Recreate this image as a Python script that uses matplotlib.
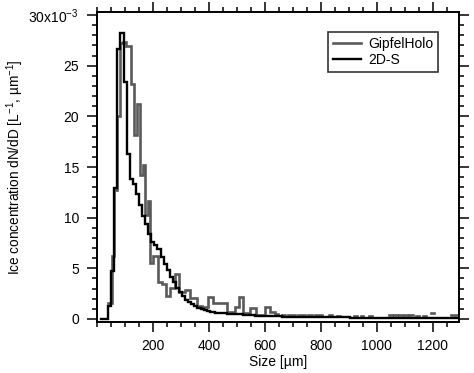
import numpy as np
import matplotlib
matplotlib.use("Agg")
import matplotlib.pyplot as plt
from matplotlib.ticker import MultipleLocator, FixedLocator, FixedFormatter

plt.rcParams['font.family'] = ['Liberation Sans', 'DejaVu Sans']
plt.rcParams['mathtext.fontset'] = 'custom'
plt.rcParams['mathtext.rm'] = 'Liberation Sans'
plt.rcParams['mathtext.it'] = 'Liberation Sans:italic'

# ---- data (size in µm, concentration in L^-1 µm^-1) ----
s2d_edges = [15, 40, 51, 62, 73, 84, 95, 106, 117, 128, 139, 150, 161, 172, 183, 194,
             205, 216, 227, 238, 249, 260, 271, 282, 293, 304, 315, 326, 337, 348, 359,
             370, 381, 392, 403, 423, 443, 463, 483, 503, 523, 543, 563, 583, 603, 623,
             663, 703, 743, 783, 823, 863, 903, 943, 983, 1023, 1063, 1103, 1143, 1183,
             1223, 1263, 1290]
s2d_vals = [0.0, 1.3, 4.7, 12.9, 26.6, 28.2, 23.4, 16.3, 13.8, 13.3, 12.3, 11.2, 10.2,
            9.4, 8.4, 7.6, 7.3, 6.9, 6.1, 5.4, 4.8, 4.1, 3.6, 3.1, 2.7, 2.3, 1.9, 1.65,
            1.45, 1.25, 1.1, 1.0, 0.9, 0.82, 0.72, 0.62, 0.55, 0.5, 0.45, 0.45, 0.42,
            0.38, 0.33, 0.3, 0.28, 0.26, 0.23, 0.21, 0.2, 0.18, 0.16, 0.15, 0.13, 0.12,
            0.12, 0.11, 0.1, 0.1, 0.1, 0.1, 0.1, 0.1]

holo_edges = [40, 52, 62, 72, 82, 94, 104, 121, 133, 144, 154, 163, 173, 181, 189, 200,
              218, 232, 248, 260, 279, 293, 314, 332, 356, 376, 398, 416, 440, 463, 493,
              507, 521, 546, 570, 600, 618, 636, 648, 660, 672, 684, 696, 708, 720, 732,
              744, 756, 768, 780, 792, 804, 828, 840, 858, 870, 918, 930, 942, 950, 972,
              984, 1044, 1056, 1062, 1074, 1080, 1092, 1098, 1110, 1116, 1128, 1140,
              1152, 1164, 1176, 1194, 1206, 1266, 1290]
nan = np.nan
holo_vals = [1.6, 6.2, 12.7, 20.0, 27.2, 27.3, 26.9, 23.2, 18.2, 21.2, 14.2, 15.2, 10.3,
             11.6, 5.5, 6.2, 3.6, 3.5, 2.3, 3.1, 4.4, 2.7, 2.9, 2.1, 1.3, 1.2, 2.2, 1.6,
             1.6, 0.7, 1.2, 2.2, 0.6, 1.1, 0.4, 1.2, 0.7, 0.5, nan, 0.4, nan, 0.35, 0.4,
             nan, 0.4, 0.35, nan, 0.4, nan, 0.35, 0.35, nan, 0.35, nan, 0.3, nan, 0.3,
             nan, 0.3, nan, 0.3, nan, 0.35, nan, 0.35, nan, 0.35, nan, 0.35, nan, 0.35,
             nan, 0.3, nan, 0.3, nan, 0.6, nan, 0.35]

series_names = ["GipfelHolo", "2D-S"]
ytick_labels = ['0', '5', '10', '15', '20', '25', r'30x10$^{\mathrm{-3}}$']


def stair_xy(edges, vals, scale=1e-3):
    e = np.asarray(edges, float)
    v = np.asarray(vals, float) * scale
    x = np.repeat(e, 2)[1:-1]
    y = np.repeat(v, 2)
    return x, y


fig = plt.figure(figsize=(4.74, 3.73), dpi=100)
ax = fig.add_axes([97 / 474, 1 - 322 / 373, (459 - 97) / 474, (322 - 12) / 373])

hx, hy = stair_xy(holo_edges, holo_vals)
bx, by = stair_xy(s2d_edges, s2d_vals)
ax.plot(hx, hy, color='#5a5a5a', lw=1.9, solid_joinstyle='miter', label=series_names[0])
ax.plot(bx, by, color='black', lw=1.7, solid_joinstyle='miter', label=series_names[1])

ax.set_xlim(0, 1294)
ax.set_ylim(-0.0003, 0.0303)

ax.xaxis.set_major_locator(FixedLocator([200, 400, 600, 800, 1000, 1200]))
ax.xaxis.set_minor_locator(MultipleLocator(50))
ax.yaxis.set_major_locator(FixedLocator([0, 0.005, 0.010, 0.015, 0.020, 0.025, 0.030]))
ax.yaxis.set_major_formatter(FixedFormatter(ytick_labels))
ax.yaxis.set_minor_locator(MultipleLocator(0.001))

for sp in ax.spines.values():
    sp.set_linewidth(1.4)

ax.tick_params(which='both', direction='out', top=True, right=True, width=1.1,
               labelsize=10, colors='black')
ax.tick_params(which='major', length=7.5)
ax.tick_params(which='minor', length=3.8)
ax.tick_params(axis='y', which='major', pad=5.5)
ax.tick_params(axis='x', which='major', pad=4.5)

ax.set_xlabel('Size [µm]', fontsize=10, labelpad=2)
ax.set_ylabel(r'Ice concentration dN/dD [L$^{\mathrm{-1}}$, µm$^{\mathrm{-1}}$]', fontsize=9.8)
ax.yaxis.set_label_coords(-0.195, 0.5)

leg = ax.legend(loc='upper right', bbox_to_anchor=(0.942, 0.936), borderaxespad=0,
                fontsize=10, frameon=True, fancybox=False, handlelength=2.0,
                handletextpad=0.5, labelspacing=0.15, borderpad=0.35)
leg.get_frame().set_edgecolor('black')
leg.get_frame().set_linewidth(1.2)

fig.savefig('out.png', dpi=100)
